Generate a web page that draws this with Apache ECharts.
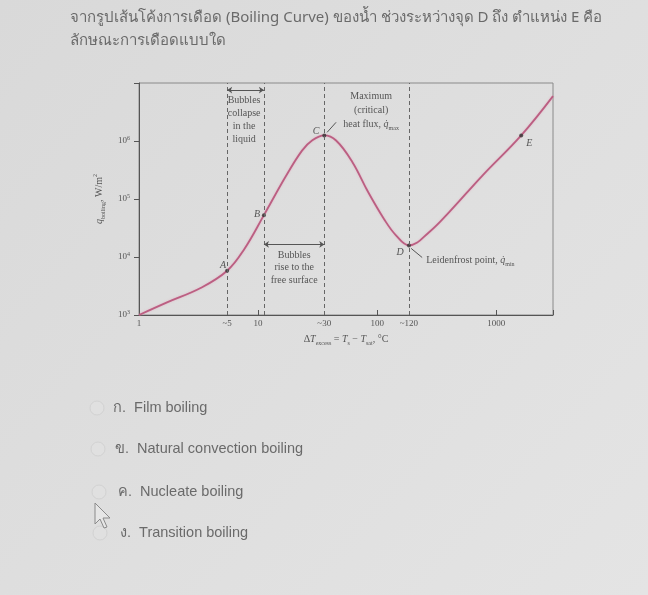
<!DOCTYPE html>
<html><head><meta charset="utf-8">
<script src="https://cdn.jsdelivr.net/npm/echarts@6/dist/echarts.min.js"></script>
<style>html,body{margin:0;padding:0;background:#dcdcdc;}#c{width:648px;height:595px;}</style>
</head><body><div id="c"></div>
<script>
// Boiling curve (ΔT excess in °C, q in W/m²)
const curveDT = [1, 1.72, 3.32, 5.5, 7.63, 11.2, 17.2, 23.4, 28.4, 36, 45.2, 61.7, 84, 114.5, 144, 185, 273, 403, 763, 1622, 3000];
const curveQ  = [1000, 1650, 2950, 5800, 13500, 52700, 251000, 683000, 1020000, 1250000, 1020000, 440000, 132000, 44900, 23650, 15850, 26700, 59400, 251000, 1250000, 5940000];
// Marked points
const pointNames = ['A', 'B', 'C', 'D', 'E'];
const pointDT = [5.5, 11.2, 36, 185, 1622];
const pointQ  = [5800, 52700, 1250000, 15850, 1250000];
// Vertical dashed region boundaries and their approximate tick labels
const boundaryDT = [5.5, 11.2, 36, 185];
const boundaryLabels = ['~5', '', '~30', '~120'];
// Question text and answer choices
const questionLines = ['จากรูปเส้นโค้งการเดือด (Boiling Curve) ของน้ำ ช่วงระหว่างจุด D ถึง ตำแหน่ง E คือ', 'ลักษณะการเดือดแบบใด'];
const choiceLetters = ['ก.', 'ข.', 'ค.', 'ง.'];
const choiceTexts = ['Film boiling', 'Natural convection boiling', 'Nucleate boiling', 'Transition boiling'];

const serif = 'Liberation Serif';
const inkColor = '#555';
const rich = {
  i: {fontStyle: 'italic', fontFamily: serif, fontSize: 10, color: inkColor},
  sub: {fontFamily: serif, fontSize: 6, color: inkColor, verticalAlign: 'bottom', lineHeight: 14},
  sup: {fontFamily: serif, fontSize: 6, color: inkColor, verticalAlign: 'top', lineHeight: 14},
  n: {fontFamily: serif, fontSize: 10, color: inkColor}
};

const chart = echarts.init(document.getElementById('c'));

const graphics = [];
questionLines.forEach((t, k) => {
  graphics.push({type: 'text', left: 70, top: 10 + k * 23, style: {text: t, fontSize: 15, fontFamily: 'Noto Sans, sans-serif', fill: '#6a6a6a'}});
});
const choiceY = [408, 449, 492, 533];
const choiceX = [113, 115, 118, 120];
choiceTexts.forEach((t, k) => {
  graphics.push({type: 'circle', shape: {cx: 97 + k, cy: choiceY[k], r: 7}, style: {fill: '#e0e0e0', stroke: '#d2d2d2', lineWidth: 1}});
  graphics.push({type: 'text', x: choiceX[k], y: choiceY[k], style: {text: choiceLetters[k] + '  ' + t, fontSize: 14.5, fontFamily: 'Liberation Sans, sans-serif', fill: '#6a6a6a', verticalAlign: 'middle'}});
});
graphics.push({type: 'polygon', shape: {points: [[95, 503], [95, 524], [100, 519], [104, 528], [107, 527], [103, 518], [110, 518]]}, style: {fill: '#e6e6e6', stroke: '#8a8a8a', lineWidth: 1}});

const vLines = boundaryDT.map((v, k) => ({
  xAxis: v,
  label: {show: boundaryLabels[k] !== '', formatter: boundaryLabels[k], position: 'start', distance: 4, fontFamily: serif, fontSize: 9, color: inkColor}
}));

const annotations = [
  {coord: [7.63, 2270000], text: 'Bubbles\ncollapse\nin the\nliquid', pos: 'inside', lh: 13},
  {coord: [89, 3390000], text: '{n|Maximum}\n{n|(critical)}\n{n|heat flux, }{i|q̇}{sub|max}', pos: 'inside', lh: 14},
  {coord: [20.1, 6560], text: 'Bubbles\nrise to the\nfree surface', pos: 'inside', lh: 12.5},
  {coord: [258, 8690], text: '{n|Leidenfrost point, }{i|q̇}{sub|min}', pos: 'right', lh: 12},
  {coord: [30.7, 1460000], text: '{i|C}', pos: 'inside', lh: 12},
  {coord: [9.81, 54800], text: '{i|B}', pos: 'inside', lh: 12},
  {coord: [5.08, 7110], text: '{i|A}', pos: 'inside', lh: 12},
  {coord: [156, 11970], text: '{i|D}', pos: 'inside', lh: 12},
  {coord: [1893, 906000], text: '{i|E}', pos: 'inside', lh: 12}
];

const isPow10 = v => { const e = Math.log10(v); return Math.abs(e - Math.round(e)) < 1e-6; };

chart.setOption({
  backgroundColor: new echarts.graphic.LinearGradient(0, 0, 1, 1, [{offset: 0, color: '#d9d9d9'}, {offset: 1, color: '#e4e4e4'}]),
  animation: false,
  graphic: graphics,
  grid: {left: 139, right: 95, top: 83, bottom: 280, show: true, borderColor: '#8a8a8a', borderWidth: 1, backgroundColor: 'transparent'},
  xAxis: {
    type: 'log', logBase: 10, min: 1, max: 3000,
    name: 'Δ{i|T}{sub|excess}{n| = }{i|T}{sub|s}{n| − }{i|T}{sub|sat}{n|, °C}',
    nameLocation: 'middle', nameGap: 17,
    nameTextStyle: {rich: rich, fontFamily: serif, fontSize: 10, color: inkColor},
    axisLine: {lineStyle: {color: '#555', width: 1}},
    axisTick: {inside: true, length: 5, lineStyle: {color: '#555'}},
    minorTick: {show: false},
    axisLabel: {fontFamily: serif, fontSize: 9, color: inkColor, margin: 4, formatter: v => isPow10(v) ? String(Math.round(v)) : ''},
    splitLine: {show: false}
  },
  yAxis: {
    type: 'log', logBase: 10, min: 1000, max: 10000000,
    name: '{i|q}{sub|boiling}{n|, W/m}{sup|2}',
    nameLocation: 'middle', nameRotate: 90, nameGap: 33,
    nameTextStyle: {rich: rich, fontFamily: serif, fontSize: 10, color: inkColor},
    axisLine: {lineStyle: {color: '#555', width: 1}},
    axisTick: {length: 5, lineStyle: {color: '#555'}},
    axisLabel: {
      margin: 9, fontFamily: serif, fontSize: 9, color: inkColor,
      formatter: v => { const e = Math.round(Math.log10(v)); return e >= 7 ? '' : '{b|10}{s|' + e + '}'; },
      rich: {b: {fontFamily: serif, fontSize: 9, color: inkColor}, s: {fontFamily: serif, fontSize: 6, color: inkColor, verticalAlign: 'top', lineHeight: 12}}
    },
    splitLine: {show: false}
  },
  series: [
    {
      type: 'line', smooth: 0.4, showSymbol: false,
      data: curveDT.map((v, k) => [v, curveQ[k]]),
      lineStyle: {color: '#bb5f82', width: 1.8, shadowColor: 'rgba(230,150,180,0.6)', shadowBlur: 2},
      z: 3,
      markLine: {
        silent: true, symbol: 'none', animation: false,
        lineStyle: {color: '#666', type: [4, 3], width: 1},
        data: vLines.concat([
          [{coord: [5.5, 7550000], symbol: 'arrow', symbolSize: 5, lineStyle: {type: 'solid', color: '#555'}}, {coord: [11.2, 7550000], symbol: 'arrow', symbolSize: 5}],
          [{coord: [11.2, 16500], symbol: 'arrow', symbolSize: 5, lineStyle: {type: 'solid', color: '#555'}}, {coord: [36, 16500], symbol: 'arrow', symbolSize: 5}],
          [{coord: [45.2, 2100000], symbol: 'none', lineStyle: {type: 'solid', color: '#555'}}, {coord: [38, 1410000], symbol: 'none'}],
          [{coord: [239, 9800], symbol: 'none', lineStyle: {type: 'solid', color: '#555'}}, {coord: [193, 14060], symbol: 'none'}]
        ])
      },
      markPoint: {
        silent: true, symbol: 'circle', symbolSize: 0, animation: false,
        data: annotations.map(a => ({
          coord: a.coord,
          label: {show: true, formatter: a.text, position: a.pos, distance: 0, fontFamily: serif, fontSize: 10, color: inkColor, lineHeight: a.lh, align: a.pos === 'right' ? 'left' : 'center', rich: Object.assign({}, rich, {n: Object.assign({}, rich.n, {lineHeight: a.lh})})}
        }))
      }
    },
    {
      type: 'scatter', symbolSize: 4, z: 4,
      itemStyle: {color: '#333'},
      data: pointDT.map((v, k) => ({name: pointNames[k], value: [v, pointQ[k]]}))
    }
  ]
});
</script></body></html>
